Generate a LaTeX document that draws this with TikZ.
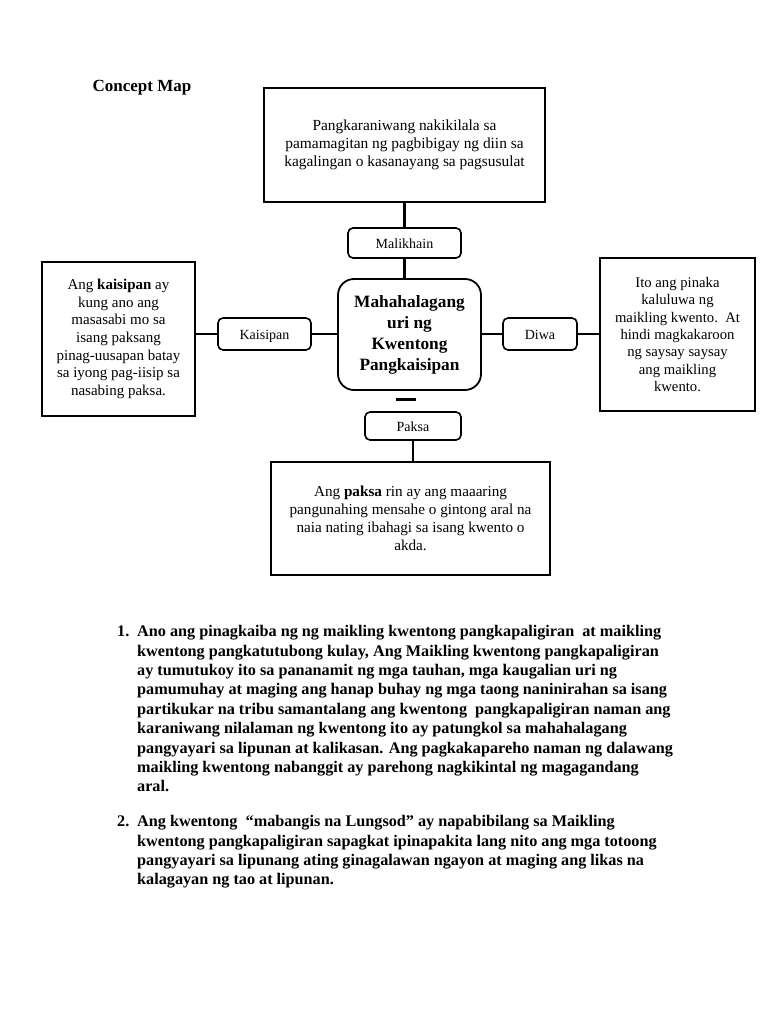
\documentclass[tikz,border=0pt]{standalone}
\usepackage{fontspec}
\setmainfont{Liberation Serif}
\usetikzlibrary{positioning, calc}

\begin{document}
\begin{tikzpicture}[x=1pt, y=-1pt]
\tikzstyle{infobox}=[draw, line width=1.6pt, align=center, inner sep=0pt]
\tikzstyle{tagbox}=[draw, line width=1.6pt, rounded corners=5pt, inner sep=0pt,
text height=13pt, text depth=2.5pt, font=\fontsize{14}{16}\selectfont]
\tikzstyle{hubbox}=[draw, line width=1.8pt, rounded corners=16pt, align=center,
font=\bfseries\fontsize{17.3}{21}\selectfont, minimum width=143pt, minimum height=111pt]
\tikzstyle{link}=[line width=2.6pt]
\tikzstyle{para}=[anchor=north west, align=left, inner sep=0pt,
font=\bfseries\fontsize{16.2}{19.4}\selectfont]

\useasboundingbox (0,0) rectangle (768,1024);

% title
\node (title) at (142,88) [font=\bfseries\fontsize{17}{20}\selectfont] {Concept Map};

% hub and labels
\node (hub) at (409.5,334.5) [hubbox] {Mahahalagang\\uri ng\\Kwentong\\Pangkaisipan};
\node (malikhain) at (404.5,243) [tagbox, minimum width=113pt, minimum height=30pt] {Malikhain};
\node (kaisipan) at (264.5,334) [tagbox, minimum width=93pt, minimum height=32pt] {Kaisipan};
\node (diwa) at (540,334) [tagbox, minimum width=74pt, minimum height=32pt] {Diwa};
\node (paksa) at (413,426) [tagbox, minimum width=96pt, minimum height=28pt] {Paksa};

% text boxes
\node (topbox) at (404.5,145) [infobox, minimum width=281pt, minimum height=114pt,
font=\fontsize{15.4}{18}\selectfont] {Pangkaraniwang nakikilala sa\\pamamagitan ng pagbibigay ng diin sa\\kagalingan o kasanayang sa pagsusulat};
\node (leftbox) at (118.5,339) [infobox, minimum width=153pt, minimum height=154pt,
font=\fontsize{15}{17.7}\selectfont] {Ang \textbf{kaisipan} ay\\kung ano ang\\masasabi mo sa\\isang paksang\\pinag-uusapan batay\\sa iyong pag-iisip sa\\nasabing paksa.};
\node (rightbox) at (677.5,334.5) [infobox, minimum width=155pt, minimum height=153pt,
font=\fontsize{14.7}{17.3}\selectfont] {Ito ang pinaka\\kaluluwa ng\\maikling kwento.\ \ At\\hindi magkakaroon\\ng saysay saysay\\ang maikling\\kwento.};
\node (bottombox) at (410.5,518.5) [infobox, minimum width=279pt, minimum height=113pt,
font=\fontsize{15.2}{18}\selectfont] {Ang \textbf{paksa} rin ay ang maaaring\\pangunahing mensahe o gintong aral na\\naia nating ibahagi sa isang kwento o\\akda.};

% connections
\draw[link] (topbox.south) -- (malikhain.north);
\draw[link] (malikhain.south) -- (malikhain.south |- hub.north);
\draw[link] (kaisipan.west) -- (kaisipan.west -| leftbox.east);
\draw[link] (kaisipan.east) -- (kaisipan.east -| hub.west);
\draw[link] (diwa.west) -- (diwa.west -| hub.east);
\draw[link] (diwa.east) -- (diwa.east -| rightbox.west);
\draw[link] (paksa.south) -- (paksa.south |- bottombox.north);
\coordinate (stubl) at (396,399);
\coordinate (stubr) at (416,399);
\draw[link, line width=3pt] (stubl) -- (stubr);

% questions
\node (num1) at (117,623) [para] {\strut 1.};
\node (item1) at (137,623) [para] {\strut Ano ang pinagkaiba ng ng maikling kwentong pangkapaligiran\ \ at maikling\\
kwentong pangkatutubong kulay, Ang Maikling kwentong pangkapaligiran\\
ay tumutukoy ito sa pananamit ng mga tauhan, mga kaugalian uri ng\\
pamumuhay at maging ang hanap buhay ng mga taong naninirahan sa isang\\
partikukar na tribu samantalang ang kwentong\ \ pangkapaligiran naman ang\\
karaniwang nilalaman ng kwentong ito ay patungkol sa mahahalagang\\
pangyayari sa lipunan at kalikasan. Ang pagkakapareho naman ng dalawang\\
maikling kwentong nabanggit ay parehong nagkikintal ng magagandang\\
aral.};
\node (num2) at (117,813) [para] {\strut 2.};
\node (item2) at (137,813) [para] {\strut Ang kwentong\ \ “mabangis na Lungsod” ay napabibilang sa Maikling\\
kwentong pangkapaligiran sapagkat ipinapakita lang nito ang mga totoong\\
pangyayari sa lipunang ating ginagalawan ngayon at maging ang likas na\\
kalagayan ng tao at lipunan.};
\end{tikzpicture}
\end{document}
